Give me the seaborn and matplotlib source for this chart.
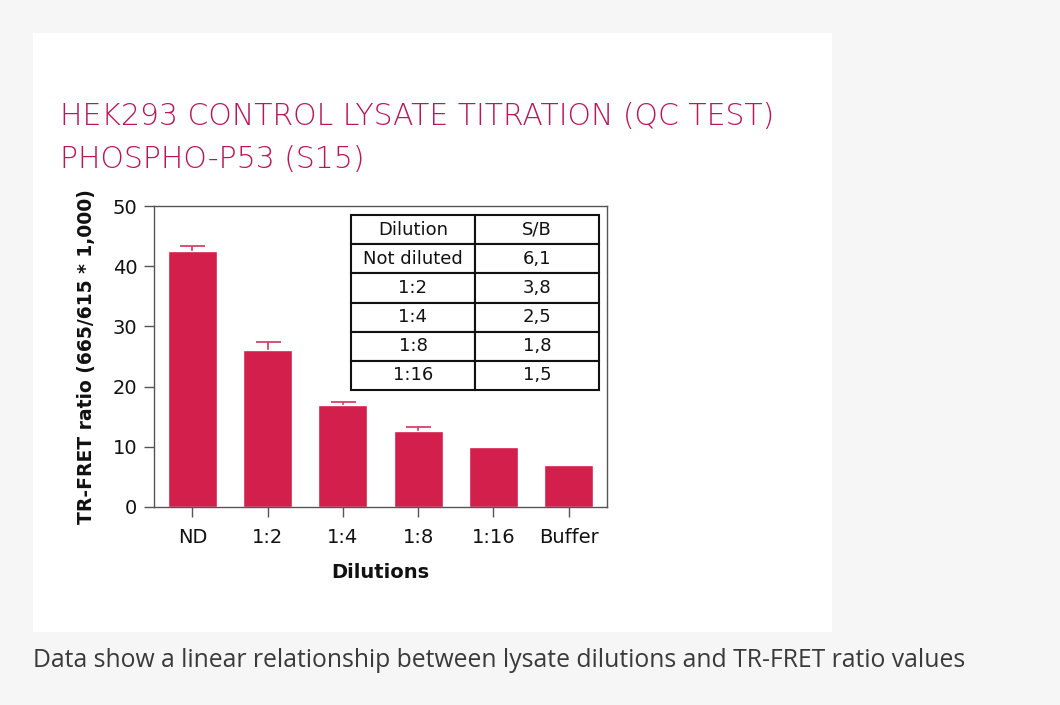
import matplotlib
matplotlib.use("Agg")
import matplotlib.pyplot as plt
import matplotlib.patches as mpatches
import seaborn as sns
import pandas as pd
import numpy as np

# data
dilutions = ["ND", "1:2", "1:4", "1:8", "1:16", "Buffer"]
ratio = [42.5, 26.1, 17.0, 12.6, 10.0, 6.9]
ratio_err = [0.9, 1.3, 0.4, 0.7, 0.0, 0.0]

table_dilution = ["Not diluted", "1:2", "1:4", "1:8", "1:16"]
table_sb = ["6,1", "3,8", "2,5", "1,8", "1,5"]

bar_color = "#d31f4b"
title_color = "#b8185a"

sns.set_theme(style="white")
plt.rcParams['font.family'] = ['DejaVu Sans']

df = pd.DataFrame({"Dilution": dilutions, "Ratio": ratio})

fig = plt.figure(figsize=(10.6, 7.05), dpi=100, facecolor="#f6f6f6")

# white card behind the chart
card = mpatches.Rectangle((33 / 1060, 1 - 632 / 705), (832 - 33) / 1060, (632 - 33) / 705,
                          transform=fig.transFigure, facecolor="white", edgecolor="none", zorder=-5)
fig.patches.append(card)

ax = fig.add_axes([154 / 1060, 1 - 507 / 705, 453 / 1060, 301 / 705])
ax.set_zorder(3)
ax.set_facecolor("white")

sns.barplot(data=df, x="Dilution", y="Ratio", color=bar_color, width=0.65,
            saturation=1, ax=ax, zorder=2)

# upper error bars only
x_pos = np.arange(len(dilutions))
has_err = np.array(ratio_err) > 0
_, caps, _ = ax.errorbar(x_pos[has_err], np.array(ratio)[has_err],
                         yerr=[np.zeros(has_err.sum()), np.array(ratio_err)[has_err]],
                         fmt="none", ecolor="#d9416a", elinewidth=1.3, capsize=9,
                         capthick=1.3, zorder=1)
caps[0].set_visible(False)

ax.set_xlim(-0.51, 5.51)
ax.set_ylim(0, 50)
ax.set_yticks([0, 10, 20, 30, 40, 50])

for side in ["left", "bottom", "right", "top"]:
    ax.spines[side].set_visible(True)
    ax.spines[side].set_color("#555555")
    ax.spines[side].set_linewidth(1.0)

ax.tick_params(axis="both", which="both", direction="out", length=7, width=1.0,
               color="#555555", labelsize=14, labelcolor="#111111", pad=5,
               left=True, bottom=True)
ax.tick_params(axis="x", pad=8)

ax.set_xlabel("Dilutions", fontsize=14, fontweight="bold", color="#111111", labelpad=12)
ax.set_ylabel("TR-FRET ratio (665/615 * 1,000)", fontsize=13.5, fontweight="bold",
              color="#111111", labelpad=12)

# S/B table
cells = [["Dilution", "S/B"]] + [[d, s] for d, s in zip(table_dilution, table_sb)]
tbl = ax.table(cellText=cells, cellLoc="center",
               bbox=[(351 - 154) / 453, (507 - 390) / 301, (599 - 351) / 453, (390 - 215) / 301])
tbl.auto_set_font_size(False)
tbl.set_fontsize(13)
tbl.set_zorder(5)
for (r, c), cell in tbl.get_celld().items():
    cell.set_edgecolor("#111111")
    cell.set_linewidth(1.5)
    cell.set_facecolor("white")
    cell.get_text().set_color("#111111")

fig.text(60 / 1060, 1 - 125 / 705, "HEK293 CONTROL LYSATE TITRATION (QC TEST)",
         fontsize=21.5, color=title_color, fontweight="light", ha="left", va="baseline")
fig.text(60 / 1060, 1 - 168 / 705, "PHOSPHO-P53 (S15)",
         fontsize=21.5, color=title_color, fontweight="light", ha="left", va="baseline")

fig.text(33 / 1060, 1 - 667 / 705,
         "Data show a linear relationship between lysate dilutions and TR-FRET ratio values",
         fontsize=17.8, color="#3a3a3a", ha="left", va="baseline", family=["Open Sans", "DejaVu Sans"])

fig.savefig("out.png", dpi=100, facecolor=fig.get_facecolor())
